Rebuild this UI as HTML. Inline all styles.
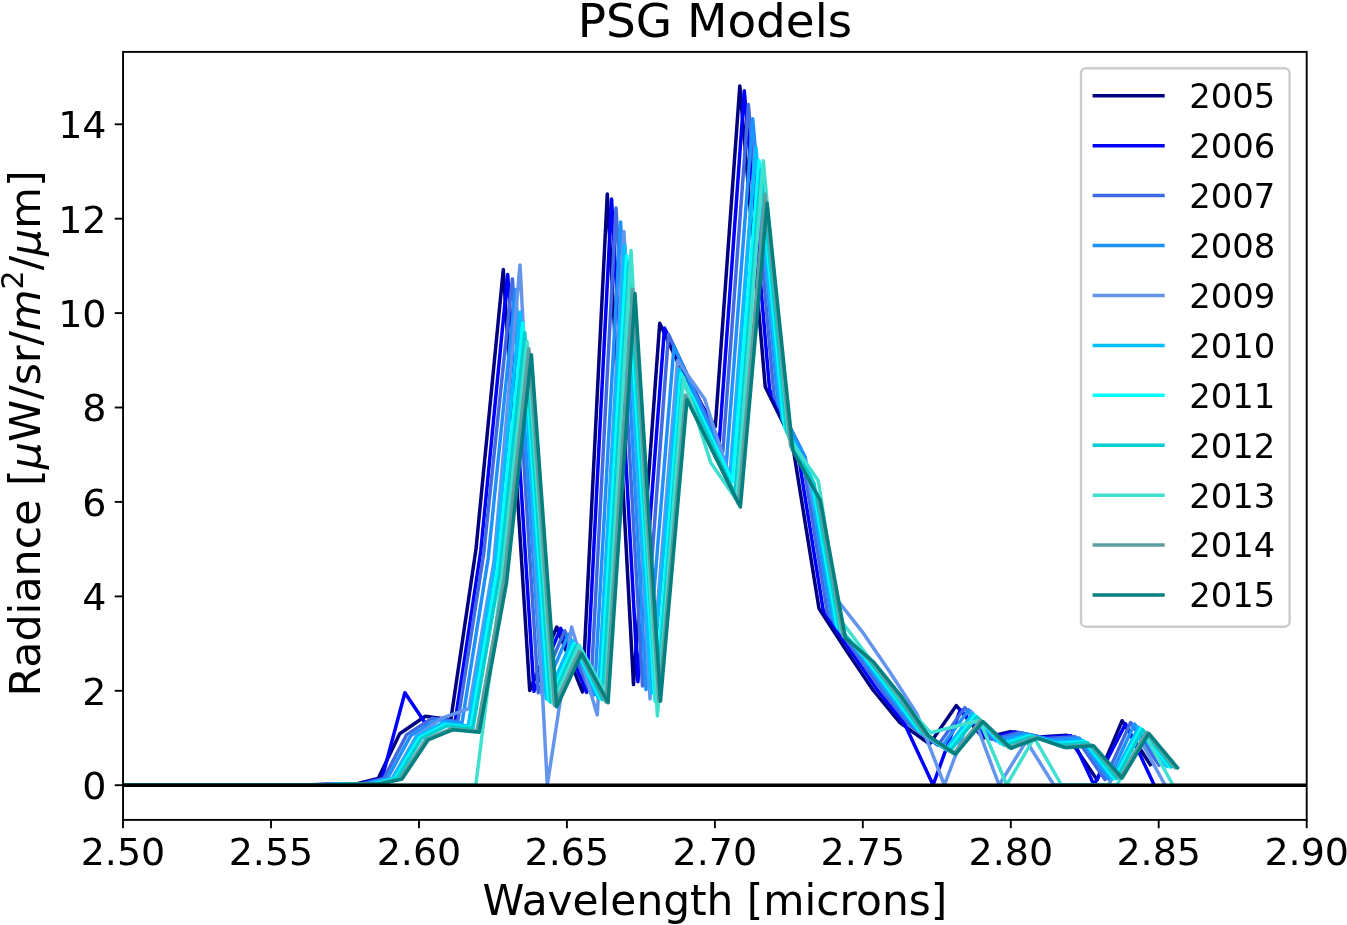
<!DOCTYPE html>
<html><head><meta charset="utf-8"><title>PSG Models</title>
<style>
html,body{margin:0;padding:0;background:#fff}
svg{display:block}
text{font-family:"DejaVu Sans","Liberation Sans",sans-serif;fill:#000}
.tk{font-size:38px}
.lg{font-size:33.8px}
.lb{font-size:42.3px}
.tt{font-size:46.9px}
.ln polyline{fill:none;stroke-width:3.5;stroke-linejoin:round;stroke-linecap:butt}
.i{font-style:italic}
</style></head><body>
<svg width="1347" height="925" viewBox="0 0 1347 925">
<rect width="1347" height="925" fill="#fff"/>
<clipPath id="cp"><rect x="123.05" y="51.9" width="1183.65" height="768.0"/></clipPath>
<g class="ln" clip-path="url(#cp)">
<polyline points="118.0,785.1 298.2,784.9 357.2,783.7 378.2,778.4 399.7,733.7 425.3,716.3 450.8,719.7 476.0,549.0 503.3,269.6 529.7,690.5 556.8,627.0 582.4,691.9 607.3,193.9 633.5,684.6 659.7,323.3 686.0,380.0 715.3,426.6 739.8,85.9 765.2,386.7 792.0,441.0 819.0,608.5 846.0,650.0 873.0,690.0 899.9,722.7 929.6,744.0 956.3,705.5 983.0,738.0 1010.4,731.6 1038.0,737.0 1066.8,735.2 1097.1,779.8 1122.1,720.7 1151.2,766.1" stroke="#000080"/>
<polyline points="118.0,785.1 302.0,784.9 361.0,783.7 382.0,778.4 404.9,692.8 429.7,729.7 455.3,720.3 480.8,550.7 507.7,274.6 534.0,691.3 560.7,628.3 586.5,692.4 611.6,199.0 637.9,681.7 664.5,328.0 691.9,384.6 719.3,441.3 744.3,90.8 769.6,389.9 796.5,444.0 823.2,610.0 850.4,650.6 877.7,690.4 904.4,723.4 933.1,785.0 960.4,709.6 987.5,738.5 1014.8,731.9 1042.4,737.5 1071.0,735.7 1094.0,785.0 1125.6,723.9 1154.2,785.0" stroke="#0000ff"/>
<polyline points="118.0,785.1 303.8,784.9 362.8,783.7 383.8,778.5 406.7,734.6 432.1,718.2 457.8,721.5 483.7,553.8 512.4,278.9 538.3,692.8 564.7,630.7 590.6,693.4 616.0,208.0 642.5,685.9 668.5,334.5 695.6,393.1 722.8,451.7 748.4,104.6 774.0,395.6 801.0,449.4 827.4,612.7 854.8,651.7 882.3,691.1 909.0,724.5 937.9,745.4 964.8,707.7 991.9,739.4 1019.1,732.5 1046.8,738.5 1075.3,736.7 1105.0,779.5 1130.6,722.5 1159.9,766.5" stroke="#4169e1"/>
<polyline points="118.0,785.1 307.3,784.9 366.3,783.7 387.3,778.6 410.9,735.4 436.3,719.9 462.0,723.1 488.2,558.2 515.5,289.6 542.3,694.9 568.4,634.2 594.4,694.8 620.6,221.9 646.0,689.6 674.0,346.4 700.1,405.9 726.2,465.5 752.7,118.8 778.1,403.9 805.2,457.1 831.3,616.5 858.9,653.2 886.7,692.1 913.2,726.2 941.8,746.8 968.8,709.8 996.0,740.8 1023.2,733.4 1050.9,739.9 1079.2,738.0 1108.8,779.3 1134.5,724.1 1164.0,766.9" stroke="#1e90ff"/>
<polyline points="118.0,785.1 312.1,784.9 371.1,783.7 392.1,778.7 416.3,736.2 441.8,718.1 469.0,708.7 493.8,562.3 520.0,264.9 547.3,785.0 571.6,627.0 597.3,714.9 623.9,231.4 650.0,698.8 677.5,360.6 704.6,398.9 729.8,477.0 755.3,149.0 781.4,411.6 808.6,480.0 835.0,597.0 862.3,631.8 889.7,671.7 917.0,714.0 944.4,785.0 971.8,712.0 999.1,785.0 1026.4,741.0 1053.8,785.0 1081.2,785.0 1108.5,785.0 1136.5,733.0 1165.0,785.0" stroke="#6495ed"/>
<polyline points="118.0,785.1 312.8,784.9 371.8,783.7 392.8,778.8 417.1,736.9 442.4,723.1 468.2,726.1 494.7,566.3 520.0,312.3 546.3,698.8 572.0,640.5 598.2,697.4 624.6,245.2 651.5,693.0 679.2,368.9 704.9,423.2 730.6,477.6 755.8,147.0 782.2,419.2 809.4,471.4 835.3,623.6 863.0,656.1 891.0,693.9 917.4,729.4 945.6,749.2 972.7,713.7 1000.2,743.3 1027.2,735.0 1054.9,742.5 1083.2,740.6 1112.4,778.9 1138.5,727.2 1168.0,767.6" stroke="#00bfff"/>
<polyline points="118.0,785.1 314.9,784.9 373.9,783.7 394.9,778.8 419.6,737.7 444.8,724.7 470.7,727.6 497.4,570.4 522.8,323.1 548.7,700.8 574.2,643.7 600.4,698.7 626.7,255.6 655.0,701.0 681.0,373.5 706.8,427.8 732.5,482.0 759.1,160.8 784.6,426.9 811.9,478.6 837.5,627.2 865.4,657.6 893.5,694.9 919.9,731.0 947.9,750.4 975.0,715.6 1002.6,744.5 1029.6,735.8 1057.3,743.7 1085.5,741.8 1114.6,778.7 1140.8,728.7 1170.4,768.0" stroke="#00ffff"/>
<polyline points="118.0,785.1 316.7,784.9 375.7,783.7 396.7,778.9 421.7,738.2 446.9,725.8 472.8,728.6 499.7,573.1 524.8,332.7 550.7,702.1 576.0,645.8 602.3,699.6 629.0,262.0 656.5,703.0 682.5,380.0 708.8,437.0 735.0,494.0 761.0,170.0 786.7,432.0 814.0,483.4 839.6,629.6 867.5,658.5 895.7,695.5 922.0,732.0 949.9,751.2 977.1,716.9 1004.7,745.3 1031.7,736.3 1059.4,744.6 1087.5,742.7 1116.5,778.5 1142.8,729.7 1172.5,768.2" stroke="#00ced1"/>
<polyline points="118.0,785.2 449.0,785.2 475.8,785.0 502.0,576.2 527.0,341.5 552.8,703.5 579.0,645.0 605.5,693.0 631.0,250.4 657.4,715.9 683.5,377.3 710.8,462.8 736.6,500.0 763.3,160.8 788.8,437.7 818.3,480.7 841.6,632.3 843.5,624.0 898.0,696.2 930.7,732.8 955.0,726.5 979.5,720.3 1006.8,785.0 1034.2,737.6 1061.5,785.0 1089.0,785.0 1117.0,785.0 1145.0,735.0 1173.0,785.0" stroke="#40e0d0"/>
<polyline points="118.0,785.1 320.0,784.9 379.0,783.7 400.0,779.1 425.7,739.6 450.8,728.8 476.8,731.3 504.0,580.6 528.9,348.7 554.6,705.7 579.5,651.6 606.0,701.9 632.7,289.3 659.0,701.0 685.4,395.0 712.0,449.5 738.5,504.0 765.0,194.2 790.6,446.0 818.0,496.5 843.3,636.1 871.4,661.2 899.9,697.2 926.0,734.9 953.5,753.5 980.8,720.4 1008.7,747.6 1035.5,737.7 1063.3,747.0 1091.3,745.0 1120.0,778.1 1146.6,732.5 1176.3,768.9" stroke="#5f9ea0"/>
<polyline points="118.0,785.1 322.0,784.9 381.0,783.7 402.0,779.1 428.1,740.0 453.1,729.7 479.2,732.2 506.5,583.0 531.4,354.8 556.8,706.8 581.6,653.5 608.1,702.7 635.0,293.6 660.5,701.2 687.0,399.8 713.7,453.4 740.4,507.0 767.1,203.2 792.9,450.5 820.4,500.7 845.5,638.2 873.7,662.0 902.3,697.7 928.4,735.8 955.7,754.2 983.0,721.5 1011.0,748.3 1037.8,738.2 1065.6,747.7 1093.5,745.7 1122.1,778.0 1148.8,733.4 1178.6,769.1" stroke="#008080"/>
<line x1="123.05" x2="1306.7" y1="785.2" y2="785.2" stroke="#000" stroke-width="3.5"/>
</g>
<rect x="123.05" y="51.9" width="1183.65" height="768.0" fill="none" stroke="#000" stroke-width="1.9"/>
<g stroke="#000" stroke-width="1.9">
<line x1="123.0" x2="123.0" y1="819.9" y2="828.1999999999999"/>
<line x1="271.0" x2="271.0" y1="819.9" y2="828.1999999999999"/>
<line x1="419.0" x2="419.0" y1="819.9" y2="828.1999999999999"/>
<line x1="566.9" x2="566.9" y1="819.9" y2="828.1999999999999"/>
<line x1="714.9" x2="714.9" y1="819.9" y2="828.1999999999999"/>
<line x1="862.8" x2="862.8" y1="819.9" y2="828.1999999999999"/>
<line x1="1010.8" x2="1010.8" y1="819.9" y2="828.1999999999999"/>
<line x1="1158.7" x2="1158.7" y1="819.9" y2="828.1999999999999"/>
<line x1="1306.7" x2="1306.7" y1="819.9" y2="828.1999999999999"/>
<line x1="114.75" x2="123.05" y1="785.2" y2="785.2"/>
<line x1="114.75" x2="123.05" y1="690.8" y2="690.8"/>
<line x1="114.75" x2="123.05" y1="596.4" y2="596.4"/>
<line x1="114.75" x2="123.05" y1="501.9" y2="501.9"/>
<line x1="114.75" x2="123.05" y1="407.5" y2="407.5"/>
<line x1="114.75" x2="123.05" y1="313.1" y2="313.1"/>
<line x1="114.75" x2="123.05" y1="218.7" y2="218.7"/>
<line x1="114.75" x2="123.05" y1="124.3" y2="124.3"/>
</g>
<text class="tk" x="123.0" y="864.5" text-anchor="middle">2.50</text>
<text class="tk" x="271.0" y="864.5" text-anchor="middle">2.55</text>
<text class="tk" x="419.0" y="864.5" text-anchor="middle">2.60</text>
<text class="tk" x="566.9" y="864.5" text-anchor="middle">2.65</text>
<text class="tk" x="714.9" y="864.5" text-anchor="middle">2.70</text>
<text class="tk" x="862.8" y="864.5" text-anchor="middle">2.75</text>
<text class="tk" x="1010.8" y="864.5" text-anchor="middle">2.80</text>
<text class="tk" x="1158.7" y="864.5" text-anchor="middle">2.85</text>
<text class="tk" x="1306.7" y="864.5" text-anchor="middle">2.90</text>
<text class="tk" x="106.5" y="799.0" text-anchor="end">0</text>
<text class="tk" x="106.5" y="704.6" text-anchor="end">2</text>
<text class="tk" x="106.5" y="610.2" text-anchor="end">4</text>
<text class="tk" x="106.5" y="515.7" text-anchor="end">6</text>
<text class="tk" x="106.5" y="421.3" text-anchor="end">8</text>
<text class="tk" x="106.5" y="326.9" text-anchor="end">10</text>
<text class="tk" x="106.5" y="232.5" text-anchor="end">12</text>
<text class="tk" x="106.5" y="138.1" text-anchor="end">14</text>
<text class="tt" x="714.9" y="36.9" text-anchor="middle">PSG Models</text>
<text class="lb" x="714.9" y="914.5" text-anchor="middle">Wavelength [microns]</text>
<text class="lb" style="font-size:42.75px" transform="translate(39.5,433.5) rotate(-90)" text-anchor="middle">Radiance [<tspan class="i">μ</tspan>W/sr/<tspan class="i">m</tspan><tspan font-size="30px" dy="-17">2</tspan><tspan dy="17">/</tspan><tspan class="i">μ</tspan>m]</text>
<rect x="1081" y="68.2" width="208.6" height="558.5" rx="5" ry="5" fill="#fff" fill-opacity="0.8" stroke="#ccc" stroke-width="2.4"/>
<line x1="1092.6" x2="1164.7" y1="95.8" y2="95.8" stroke="#000080" stroke-width="3.5"/>
<text class="lg" x="1189.3" y="108.1">2005</text>
<line x1="1092.6" x2="1164.7" y1="145.7" y2="145.7" stroke="#0000ff" stroke-width="3.5"/>
<text class="lg" x="1189.3" y="158.0">2006</text>
<line x1="1092.6" x2="1164.7" y1="195.6" y2="195.6" stroke="#4169e1" stroke-width="3.5"/>
<text class="lg" x="1189.3" y="207.9">2007</text>
<line x1="1092.6" x2="1164.7" y1="245.6" y2="245.6" stroke="#1e90ff" stroke-width="3.5"/>
<text class="lg" x="1189.3" y="257.9">2008</text>
<line x1="1092.6" x2="1164.7" y1="295.5" y2="295.5" stroke="#6495ed" stroke-width="3.5"/>
<text class="lg" x="1189.3" y="307.8">2009</text>
<line x1="1092.6" x2="1164.7" y1="345.4" y2="345.4" stroke="#00bfff" stroke-width="3.5"/>
<text class="lg" x="1189.3" y="357.7">2010</text>
<line x1="1092.6" x2="1164.7" y1="395.3" y2="395.3" stroke="#00ffff" stroke-width="3.5"/>
<text class="lg" x="1189.3" y="407.6">2011</text>
<line x1="1092.6" x2="1164.7" y1="445.2" y2="445.2" stroke="#00ced1" stroke-width="3.5"/>
<text class="lg" x="1189.3" y="457.5">2012</text>
<line x1="1092.6" x2="1164.7" y1="495.2" y2="495.2" stroke="#40e0d0" stroke-width="3.5"/>
<text class="lg" x="1189.3" y="507.5">2013</text>
<line x1="1092.6" x2="1164.7" y1="545.1" y2="545.1" stroke="#5f9ea0" stroke-width="3.5"/>
<text class="lg" x="1189.3" y="557.4">2014</text>
<line x1="1092.6" x2="1164.7" y1="595.0" y2="595.0" stroke="#008080" stroke-width="3.5"/>
<text class="lg" x="1189.3" y="607.3">2015</text>
</svg></body></html>
